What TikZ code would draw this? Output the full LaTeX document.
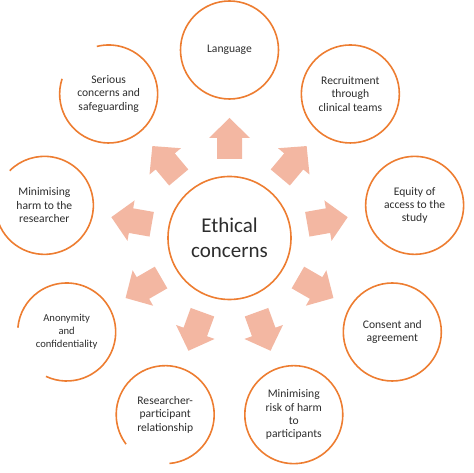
\documentclass[tikz,border=0pt]{standalone}
\usepackage{fontspec}
\setmainfont{Carlito}
\usetikzlibrary{calc}
\definecolor{ringorange}{RGB}{237,125,49}
\definecolor{arrowsalmon}{RGB}{243,183,162}
\definecolor{txt}{RGB}{45,45,45}
\begin{document}
\begin{tikzpicture}[
  ringline/.style={draw=ringorange, line width=1.6pt},
  ring/.style={circle, ringline, minimum size=98pt, inner sep=0pt, align=center,
    font=\fontsize{11.6}{13.4}\selectfont, text=txt},
  openring/.style={ring, draw=none},
  hub/.style={circle, ringline, minimum size=123pt, inner sep=0pt, align=center,
    font=\fontsize{21}{24.5}\selectfont, text=txt},
  blockarrow/.style={fill=arrowsalmon}
]
\useasboundingbox (0,0) rectangle (474pt,473pt);
\clip (0,0) rectangle (474pt,473pt);
\coordinate (C) at (229.5pt,235pt);

% block arrows
\foreach \a in {90,50,10,-30,-70,-110,-150,-190,-230}
  \fill[blockarrow, shift={(C)}, rotate=\a]
    (79pt,-12.5pt) -- (100pt,-12.5pt) -- (100pt,-20.5pt) -- (120pt,0pt)
    -- (100pt,20.5pt) -- (100pt,12.5pt) -- (79pt,12.5pt) -- cycle;

\node[hub] (hub) at (C) {Ethical\\concerns};

\node[ring] (lang) at ($(C)+(90:188pt)$) {Language};
\node[ring] (recr) at ($(C)+(50:188pt)$) {Recruitment\\through\\clinical teams};
\node[ring] (equi) at ($(C)+(10:188pt)$) {Equity of\\access to the\\study};
\node[ring] (cons) at ($(C)+(-30:188pt)$) {Consent and\\agreement};
\node[ring] (risk) at ($(C)+(-70:188pt)$) {Minimising\\risk of harm\\to\\participants};
\node[openring] (rel) at ($(C)+(-110:188pt)$) {Researcher-\\participant\\relationship};
\node[openring, font=\fontsize{10.6}{13.2}\selectfont] (anon) at ($(C)+(-150:188pt)$) {Anonymity\\and\\confidentiality};
\node[openring] (harm) at ($(C)+(170:188pt)$) {Minimising\\harm to the\\researcher};
\node[openring] (ser) at ($(C)+(130:188pt)$) {Serious\\concerns and\\safeguarding};

% open rings
\draw[ringline] ($(rel.center)+(275:49pt)$) arc[start angle=275, end angle=577, radius=49pt];
\draw[ringline] ($(anon.center)+(245:49pt)$) arc[start angle=245, end angle=535, radius=49pt];
\draw[ringline] ($(harm.center)+(200:49pt)$) arc[start angle=200, end angle=495, radius=49pt];
\draw[ringline] ($(ser.center)+(162:49pt)$) arc[start angle=162, end angle=464, radius=49pt];
\end{tikzpicture}
\end{document}
